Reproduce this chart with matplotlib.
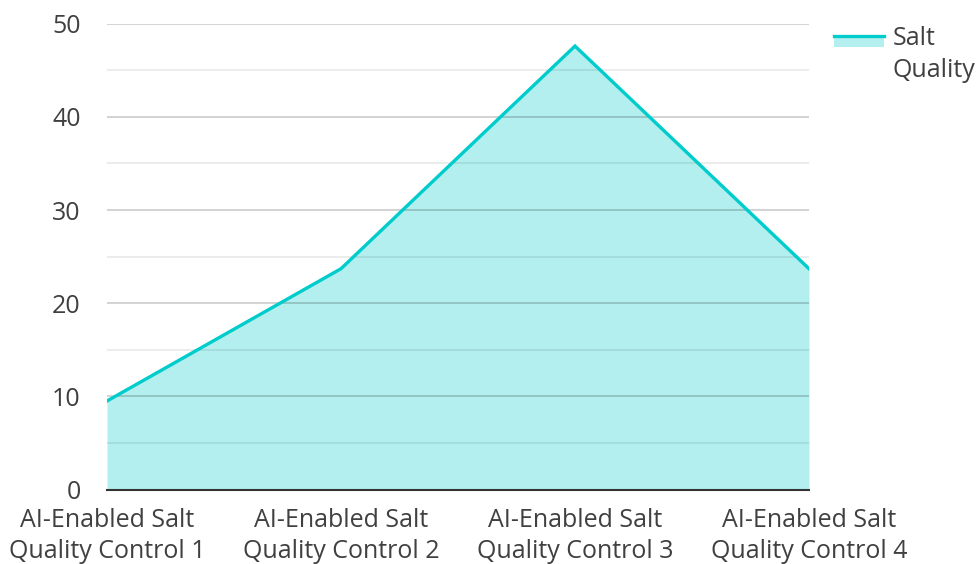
import matplotlib
matplotlib.use("Agg")
import matplotlib.pyplot as plt
from matplotlib.patches import Rectangle
from matplotlib.lines import Line2D

categories = [
    "AI-Enabled Salt\nQuality Control 1",
    "AI-Enabled Salt\nQuality Control 2",
    "AI-Enabled Salt\nQuality Control 3",
    "AI-Enabled Salt\nQuality Control 4",
]
values = [9.5, 23.7, 47.6, 23.7]
series_name = "Salt Quality"
y_ticks = [0, 10, 20, 30, 40, 50]

line_color = "#00cccc"
fill_color = "#b2efee"
text_color = "#404040"
font_size = 18

plt.rcParams["font.family"] = ["Open Sans", "DejaVu Sans"]

W, H = 979, 564
fig = plt.figure(figsize=(W / 100, H / 100), dpi=100)
ax = fig.add_axes([107 / W, 1 - 489.5 / H, (809 - 107) / W, (489.5 - 23.7) / H])

x = list(range(len(categories)))
ax.fill_between(x, values, 0, color=fill_color, lw=0, zorder=1)
ax.plot(x, values, color=line_color, lw=2.4, zorder=3, solid_joinstyle="miter")

ax.set_xlim(0, len(categories) - 1)
ax.set_ylim(0, 50)
ax.set_yticks(y_ticks)
ax.set_yticks([5, 15, 25, 35, 45], minor=True)
ax.set_xticks(x)
ax.set_xticklabels(categories, linespacing=1.36)

ax.grid(axis="y", which="major", color="#000000", alpha=0.2, lw=1.2, zorder=2)
ax.grid(axis="y", which="minor", color="#000000", alpha=0.09, lw=1.2, zorder=2)
ax.set_axisbelow(False)
for s in ["top", "right", "left"]:
    ax.spines[s].set_visible(False)
ax.spines["bottom"].set_color("#333333")
ax.spines["bottom"].set_linewidth(1.5)
ax.spines["bottom"].set_zorder(4)

ax.tick_params(axis="both", which="both", length=0, labelsize=font_size, labelcolor=text_color)
ax.tick_params(axis="y", pad=19)
ax.tick_params(axis="x", pad=13)

# legend: area swatch with the line on top, label wrapped over two lines
sw_x0, sw_x1 = 834 / W, 884 / W
sw_line_y = 1 - 35.5 / H
sw_bottom = 1 - 47 / H
fig.add_artist(Rectangle((sw_x0, sw_bottom), sw_x1 - sw_x0, sw_line_y - sw_bottom,
                         transform=fig.transFigure, facecolor=fill_color, edgecolor="none"))
fig.add_artist(Line2D([sw_x0, sw_x1], [sw_line_y, sw_line_y], transform=fig.transFigure,
                      color=line_color, lw=2.4))
for i, word in enumerate(series_name.split()):
    fig.text(893 / W, 1 - (45 + 32 * i) / H, word, fontsize=font_size, color=text_color,
             ha="left", va="baseline")

fig.savefig("out.png", dpi=100)
